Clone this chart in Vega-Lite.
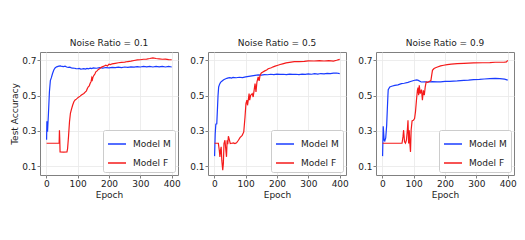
{
"$schema": "https://vega.github.io/schema/vega-lite/v6.json",
"padding": {"left": 10, "top": 38, "right": 5, "bottom": 5},
"spacing": 8,
"datasets": {"d": [
{"n":"0.1","m":"Model M","e":1,"a":0.25},{"n":"0.1","m":"Model M","e":2,"a":0.355},{"n":"0.1","m":"Model M","e":4,"a":0.295},{"n":"0.1","m":"Model M","e":7,"a":0.40},{"n":"0.1","m":"Model M","e":10,"a":0.52},{"n":"0.1","m":"Model M","e":13,"a":0.585},{"n":"0.1","m":"Model M","e":16,"a":0.60},{"n":"0.1","m":"Model M","e":20,"a":0.625},{"n":"0.1","m":"Model M","e":24,"a":0.645},{"n":"0.1","m":"Model M","e":28,"a":0.657},{"n":"0.1","m":"Model M","e":33,"a":0.663},{"n":"0.1","m":"Model M","e":40,"a":0.667},{"n":"0.1","m":"Model M","e":45,"a":0.668},{"n":"0.1","m":"Model M","e":50,"a":0.665},{"n":"0.1","m":"Model M","e":55,"a":0.664},{"n":"0.1","m":"Model M","e":60,"a":0.667},{"n":"0.1","m":"Model M","e":65,"a":0.662},{"n":"0.1","m":"Model M","e":70,"a":0.660},{"n":"0.1","m":"Model M","e":75,"a":0.661},{"n":"0.1","m":"Model M","e":80,"a":0.657},{"n":"0.1","m":"Model M","e":85,"a":0.656},{"n":"0.1","m":"Model M","e":90,"a":0.655},{"n":"0.1","m":"Model M","e":95,"a":0.653},{"n":"0.1","m":"Model M","e":100,"a":0.652},{"n":"0.1","m":"Model M","e":105,"a":0.654},{"n":"0.1","m":"Model M","e":110,"a":0.650},{"n":"0.1","m":"Model M","e":115,"a":0.651},{"n":"0.1","m":"Model M","e":120,"a":0.653},{"n":"0.1","m":"Model M","e":125,"a":0.650},{"n":"0.1","m":"Model M","e":130,"a":0.654},{"n":"0.1","m":"Model M","e":135,"a":0.652},{"n":"0.1","m":"Model M","e":140,"a":0.656},{"n":"0.1","m":"Model M","e":145,"a":0.653},{"n":"0.1","m":"Model M","e":150,"a":0.657},{"n":"0.1","m":"Model M","e":160,"a":0.655},{"n":"0.1","m":"Model M","e":170,"a":0.658},{"n":"0.1","m":"Model M","e":180,"a":0.656},{"n":"0.1","m":"Model M","e":190,"a":0.659},{"n":"0.1","m":"Model M","e":200,"a":0.657},{"n":"0.1","m":"Model M","e":210,"a":0.660},{"n":"0.1","m":"Model M","e":220,"a":0.658},{"n":"0.1","m":"Model M","e":230,"a":0.661},{"n":"0.1","m":"Model M","e":240,"a":0.659},{"n":"0.1","m":"Model M","e":250,"a":0.662},{"n":"0.1","m":"Model M","e":260,"a":0.660},{"n":"0.1","m":"Model M","e":270,"a":0.663},{"n":"0.1","m":"Model M","e":280,"a":0.661},{"n":"0.1","m":"Model M","e":290,"a":0.664},{"n":"0.1","m":"Model M","e":300,"a":0.662},{"n":"0.1","m":"Model M","e":310,"a":0.665},{"n":"0.1","m":"Model M","e":320,"a":0.663},{"n":"0.1","m":"Model M","e":330,"a":0.666},{"n":"0.1","m":"Model M","e":340,"a":0.662},{"n":"0.1","m":"Model M","e":350,"a":0.665},{"n":"0.1","m":"Model M","e":360,"a":0.663},{"n":"0.1","m":"Model M","e":370,"a":0.666},{"n":"0.1","m":"Model M","e":380,"a":0.662},{"n":"0.1","m":"Model M","e":390,"a":0.665},{"n":"0.1","m":"Model M","e":400,"a":0.662},
{"n":"0.1","m":"Model F","e":1,"a":0.23},{"n":"0.1","m":"Model F","e":41,"a":0.23},{"n":"0.1","m":"Model F","e":42,"a":0.304},{"n":"0.1","m":"Model F","e":43,"a":0.25},{"n":"0.1","m":"Model F","e":44,"a":0.181},{"n":"0.1","m":"Model F","e":55,"a":0.18},{"n":"0.1","m":"Model F","e":66,"a":0.181},{"n":"0.1","m":"Model F","e":68,"a":0.20},{"n":"0.1","m":"Model F","e":71,"a":0.27},{"n":"0.1","m":"Model F","e":74,"a":0.35},{"n":"0.1","m":"Model F","e":77,"a":0.40},{"n":"0.1","m":"Model F","e":80,"a":0.42},{"n":"0.1","m":"Model F","e":84,"a":0.445},{"n":"0.1","m":"Model F","e":88,"a":0.465},{"n":"0.1","m":"Model F","e":92,"a":0.475},{"n":"0.1","m":"Model F","e":96,"a":0.48},{"n":"0.1","m":"Model F","e":100,"a":0.487},{"n":"0.1","m":"Model F","e":104,"a":0.492},{"n":"0.1","m":"Model F","e":108,"a":0.497},{"n":"0.1","m":"Model F","e":112,"a":0.503},{"n":"0.1","m":"Model F","e":116,"a":0.508},{"n":"0.1","m":"Model F","e":120,"a":0.512},{"n":"0.1","m":"Model F","e":124,"a":0.52},{"n":"0.1","m":"Model F","e":128,"a":0.527},{"n":"0.1","m":"Model F","e":131,"a":0.54},{"n":"0.1","m":"Model F","e":134,"a":0.55},{"n":"0.1","m":"Model F","e":137,"a":0.555},{"n":"0.1","m":"Model F","e":140,"a":0.57},{"n":"0.1","m":"Model F","e":143,"a":0.58},{"n":"0.1","m":"Model F","e":145,"a":0.60},{"n":"0.1","m":"Model F","e":147,"a":0.59},{"n":"0.1","m":"Model F","e":149,"a":0.605},{"n":"0.1","m":"Model F","e":152,"a":0.615},{"n":"0.1","m":"Model F","e":155,"a":0.622},{"n":"0.1","m":"Model F","e":158,"a":0.635},{"n":"0.1","m":"Model F","e":162,"a":0.64},{"n":"0.1","m":"Model F","e":166,"a":0.648},{"n":"0.1","m":"Model F","e":170,"a":0.652},{"n":"0.1","m":"Model F","e":175,"a":0.66},{"n":"0.1","m":"Model F","e":180,"a":0.664},{"n":"0.1","m":"Model F","e":185,"a":0.668},{"n":"0.1","m":"Model F","e":190,"a":0.672},{"n":"0.1","m":"Model F","e":195,"a":0.668},{"n":"0.1","m":"Model F","e":200,"a":0.678},{"n":"0.1","m":"Model F","e":205,"a":0.676},{"n":"0.1","m":"Model F","e":210,"a":0.68},{"n":"0.1","m":"Model F","e":220,"a":0.683},{"n":"0.1","m":"Model F","e":230,"a":0.686},{"n":"0.1","m":"Model F","e":240,"a":0.688},{"n":"0.1","m":"Model F","e":250,"a":0.69},{"n":"0.1","m":"Model F","e":260,"a":0.693},{"n":"0.1","m":"Model F","e":270,"a":0.695},{"n":"0.1","m":"Model F","e":280,"a":0.699},{"n":"0.1","m":"Model F","e":290,"a":0.702},{"n":"0.1","m":"Model F","e":300,"a":0.703},{"n":"0.1","m":"Model F","e":310,"a":0.706},{"n":"0.1","m":"Model F","e":320,"a":0.707},{"n":"0.1","m":"Model F","e":330,"a":0.71},{"n":"0.1","m":"Model F","e":340,"a":0.714},{"n":"0.1","m":"Model F","e":350,"a":0.71},{"n":"0.1","m":"Model F","e":360,"a":0.708},{"n":"0.1","m":"Model F","e":370,"a":0.706},{"n":"0.1","m":"Model F","e":380,"a":0.707},{"n":"0.1","m":"Model F","e":390,"a":0.704},{"n":"0.1","m":"Model F","e":400,"a":0.703},
{"n":"0.5","m":"Model M","e":1,"a":0.157},{"n":"0.5","m":"Model M","e":3,"a":0.285},{"n":"0.5","m":"Model M","e":5,"a":0.338},{"n":"0.5","m":"Model M","e":8,"a":0.34},{"n":"0.5","m":"Model M","e":10,"a":0.42},{"n":"0.5","m":"Model M","e":12,"a":0.50},{"n":"0.5","m":"Model M","e":14,"a":0.549},{"n":"0.5","m":"Model M","e":17,"a":0.565},{"n":"0.5","m":"Model M","e":20,"a":0.575},{"n":"0.5","m":"Model M","e":25,"a":0.583},{"n":"0.5","m":"Model M","e":30,"a":0.59},{"n":"0.5","m":"Model M","e":35,"a":0.594},{"n":"0.5","m":"Model M","e":40,"a":0.598},{"n":"0.5","m":"Model M","e":45,"a":0.60},{"n":"0.5","m":"Model M","e":50,"a":0.602},{"n":"0.5","m":"Model M","e":55,"a":0.599},{"n":"0.5","m":"Model M","e":60,"a":0.603},{"n":"0.5","m":"Model M","e":70,"a":0.601},{"n":"0.5","m":"Model M","e":80,"a":0.604},{"n":"0.5","m":"Model M","e":90,"a":0.602},{"n":"0.5","m":"Model M","e":100,"a":0.606},{"n":"0.5","m":"Model M","e":110,"a":0.609},{"n":"0.5","m":"Model M","e":120,"a":0.612},{"n":"0.5","m":"Model M","e":130,"a":0.615},{"n":"0.5","m":"Model M","e":140,"a":0.617},{"n":"0.5","m":"Model M","e":150,"a":0.616},{"n":"0.5","m":"Model M","e":160,"a":0.619},{"n":"0.5","m":"Model M","e":170,"a":0.618},{"n":"0.5","m":"Model M","e":180,"a":0.621},{"n":"0.5","m":"Model M","e":190,"a":0.619},{"n":"0.5","m":"Model M","e":200,"a":0.622},{"n":"0.5","m":"Model M","e":210,"a":0.62},{"n":"0.5","m":"Model M","e":220,"a":0.621},{"n":"0.5","m":"Model M","e":230,"a":0.619},{"n":"0.5","m":"Model M","e":240,"a":0.622},{"n":"0.5","m":"Model M","e":250,"a":0.62},{"n":"0.5","m":"Model M","e":260,"a":0.621},{"n":"0.5","m":"Model M","e":270,"a":0.619},{"n":"0.5","m":"Model M","e":280,"a":0.622},{"n":"0.5","m":"Model M","e":290,"a":0.62},{"n":"0.5","m":"Model M","e":300,"a":0.623},{"n":"0.5","m":"Model M","e":310,"a":0.621},{"n":"0.5","m":"Model M","e":320,"a":0.624},{"n":"0.5","m":"Model M","e":330,"a":0.622},{"n":"0.5","m":"Model M","e":340,"a":0.625},{"n":"0.5","m":"Model M","e":350,"a":0.623},{"n":"0.5","m":"Model M","e":360,"a":0.626},{"n":"0.5","m":"Model M","e":370,"a":0.624},{"n":"0.5","m":"Model M","e":380,"a":0.627},{"n":"0.5","m":"Model M","e":390,"a":0.628},{"n":"0.5","m":"Model M","e":400,"a":0.624},
{"n":"0.5","m":"Model F","e":1,"a":0.23},{"n":"0.5","m":"Model F","e":13,"a":0.23},{"n":"0.5","m":"Model F","e":16,"a":0.19},{"n":"0.5","m":"Model F","e":18,"a":0.153},{"n":"0.5","m":"Model F","e":20,"a":0.19},{"n":"0.5","m":"Model F","e":22,"a":0.21},{"n":"0.5","m":"Model F","e":24,"a":0.134},{"n":"0.5","m":"Model F","e":27,"a":0.077},{"n":"0.5","m":"Model F","e":29,"a":0.115},{"n":"0.5","m":"Model F","e":31,"a":0.228},{"n":"0.5","m":"Model F","e":34,"a":0.247},{"n":"0.5","m":"Model F","e":37,"a":0.19},{"n":"0.5","m":"Model F","e":39,"a":0.153},{"n":"0.5","m":"Model F","e":41,"a":0.247},{"n":"0.5","m":"Model F","e":43,"a":0.225},{"n":"0.5","m":"Model F","e":45,"a":0.27},{"n":"0.5","m":"Model F","e":48,"a":0.25},{"n":"0.5","m":"Model F","e":51,"a":0.228},{"n":"0.5","m":"Model F","e":56,"a":0.23},{"n":"0.5","m":"Model F","e":61,"a":0.232},{"n":"0.5","m":"Model F","e":66,"a":0.228},{"n":"0.5","m":"Model F","e":71,"a":0.232},{"n":"0.5","m":"Model F","e":77,"a":0.247},{"n":"0.5","m":"Model F","e":82,"a":0.262},{"n":"0.5","m":"Model F","e":89,"a":0.275},{"n":"0.5","m":"Model F","e":94,"a":0.294},{"n":"0.5","m":"Model F","e":98,"a":0.379},{"n":"0.5","m":"Model F","e":101,"a":0.455},{"n":"0.5","m":"Model F","e":104,"a":0.474},{"n":"0.5","m":"Model F","e":106,"a":0.445},{"n":"0.5","m":"Model F","e":109,"a":0.483},{"n":"0.5","m":"Model F","e":111,"a":0.511},{"n":"0.5","m":"Model F","e":113,"a":0.474},{"n":"0.5","m":"Model F","e":116,"a":0.502},{"n":"0.5","m":"Model F","e":121,"a":0.511},{"n":"0.5","m":"Model F","e":124,"a":0.492},{"n":"0.5","m":"Model F","e":127,"a":0.53},{"n":"0.5","m":"Model F","e":130,"a":0.568},{"n":"0.5","m":"Model F","e":133,"a":0.521},{"n":"0.5","m":"Model F","e":136,"a":0.577},{"n":"0.5","m":"Model F","e":140,"a":0.606},{"n":"0.5","m":"Model F","e":143,"a":0.583},{"n":"0.5","m":"Model F","e":146,"a":0.615},{"n":"0.5","m":"Model F","e":150,"a":0.628},{"n":"0.5","m":"Model F","e":155,"a":0.634},{"n":"0.5","m":"Model F","e":161,"a":0.64},{"n":"0.5","m":"Model F","e":167,"a":0.645},{"n":"0.5","m":"Model F","e":172,"a":0.652},{"n":"0.5","m":"Model F","e":177,"a":0.655},{"n":"0.5","m":"Model F","e":182,"a":0.658},{"n":"0.5","m":"Model F","e":188,"a":0.663},{"n":"0.5","m":"Model F","e":194,"a":0.667},{"n":"0.5","m":"Model F","e":203,"a":0.672},{"n":"0.5","m":"Model F","e":210,"a":0.676},{"n":"0.5","m":"Model F","e":218,"a":0.68},{"n":"0.5","m":"Model F","e":229,"a":0.685},{"n":"0.5","m":"Model F","e":240,"a":0.688},{"n":"0.5","m":"Model F","e":255,"a":0.692},{"n":"0.5","m":"Model F","e":270,"a":0.693},{"n":"0.5","m":"Model F","e":287,"a":0.694},{"n":"0.5","m":"Model F","e":300,"a":0.697},{"n":"0.5","m":"Model F","e":318,"a":0.696},{"n":"0.5","m":"Model F","e":335,"a":0.698},{"n":"0.5","m":"Model F","e":350,"a":0.696},{"n":"0.5","m":"Model F","e":365,"a":0.698},{"n":"0.5","m":"Model F","e":380,"a":0.695},{"n":"0.5","m":"Model F","e":390,"a":0.70},{"n":"0.5","m":"Model F","e":397,"a":0.704},{"n":"0.5","m":"Model F","e":400,"a":0.705},
{"n":"0.9","m":"Model M","e":1,"a":0.157},{"n":"0.9","m":"Model M","e":3,"a":0.326},{"n":"0.9","m":"Model M","e":6,"a":0.247},{"n":"0.9","m":"Model M","e":8,"a":0.243},{"n":"0.9","m":"Model M","e":11,"a":0.26},{"n":"0.9","m":"Model M","e":14,"a":0.33},{"n":"0.9","m":"Model M","e":16,"a":0.417},{"n":"0.9","m":"Model M","e":18,"a":0.50},{"n":"0.9","m":"Model M","e":19,"a":0.534},{"n":"0.9","m":"Model M","e":24,"a":0.549},{"n":"0.9","m":"Model M","e":30,"a":0.553},{"n":"0.9","m":"Model M","e":40,"a":0.558},{"n":"0.9","m":"Model M","e":50,"a":0.561},{"n":"0.9","m":"Model M","e":61,"a":0.568},{"n":"0.9","m":"Model M","e":70,"a":0.57},{"n":"0.9","m":"Model M","e":82,"a":0.575},{"n":"0.9","m":"Model M","e":90,"a":0.58},{"n":"0.9","m":"Model M","e":103,"a":0.587},{"n":"0.9","m":"Model M","e":110,"a":0.589},{"n":"0.9","m":"Model M","e":115,"a":0.586},{"n":"0.9","m":"Model M","e":124,"a":0.577},{"n":"0.9","m":"Model M","e":135,"a":0.578},{"n":"0.9","m":"Model M","e":145,"a":0.577},{"n":"0.9","m":"Model M","e":160,"a":0.579},{"n":"0.9","m":"Model M","e":175,"a":0.578},{"n":"0.9","m":"Model M","e":186,"a":0.578},{"n":"0.9","m":"Model M","e":200,"a":0.58},{"n":"0.9","m":"Model M","e":215,"a":0.581},{"n":"0.9","m":"Model M","e":239,"a":0.583},{"n":"0.9","m":"Model M","e":260,"a":0.586},{"n":"0.9","m":"Model M","e":275,"a":0.588},{"n":"0.9","m":"Model M","e":291,"a":0.591},{"n":"0.9","m":"Model M","e":310,"a":0.592},{"n":"0.9","m":"Model M","e":325,"a":0.594},{"n":"0.9","m":"Model M","e":343,"a":0.596},{"n":"0.9","m":"Model M","e":360,"a":0.597},{"n":"0.9","m":"Model M","e":375,"a":0.596},{"n":"0.9","m":"Model M","e":390,"a":0.593},{"n":"0.9","m":"Model M","e":400,"a":0.588},
{"n":"0.9","m":"Model F","e":1,"a":0.23},{"n":"0.9","m":"Model F","e":63,"a":0.23},{"n":"0.9","m":"Model F","e":66,"a":0.266},{"n":"0.9","m":"Model F","e":68,"a":0.304},{"n":"0.9","m":"Model F","e":71,"a":0.238},{"n":"0.9","m":"Model F","e":74,"a":0.23},{"n":"0.9","m":"Model F","e":77,"a":0.247},{"n":"0.9","m":"Model F","e":80,"a":0.304},{"n":"0.9","m":"Model F","e":82,"a":0.36},{"n":"0.9","m":"Model F","e":84,"a":0.228},{"n":"0.9","m":"Model F","e":86,"a":0.304},{"n":"0.9","m":"Model F","e":88,"a":0.228},{"n":"0.9","m":"Model F","e":90,"a":0.181},{"n":"0.9","m":"Model F","e":92,"a":0.304},{"n":"0.9","m":"Model F","e":95,"a":0.357},{"n":"0.9","m":"Model F","e":99,"a":0.36},{"n":"0.9","m":"Model F","e":103,"a":0.37},{"n":"0.9","m":"Model F","e":106,"a":0.41},{"n":"0.9","m":"Model F","e":109,"a":0.474},{"n":"0.9","m":"Model F","e":112,"a":0.53},{"n":"0.9","m":"Model F","e":114,"a":0.545},{"n":"0.9","m":"Model F","e":116,"a":0.502},{"n":"0.9","m":"Model F","e":118,"a":0.558},{"n":"0.9","m":"Model F","e":121,"a":0.511},{"n":"0.9","m":"Model F","e":125,"a":0.534},{"n":"0.9","m":"Model F","e":128,"a":0.474},{"n":"0.9","m":"Model F","e":131,"a":0.53},{"n":"0.9","m":"Model F","e":134,"a":0.502},{"n":"0.9","m":"Model F","e":137,"a":0.55},{"n":"0.9","m":"Model F","e":140,"a":0.577},{"n":"0.9","m":"Model F","e":145,"a":0.575},{"n":"0.9","m":"Model F","e":150,"a":0.58},{"n":"0.9","m":"Model F","e":155,"a":0.585},{"n":"0.9","m":"Model F","e":158,"a":0.62},{"n":"0.9","m":"Model F","e":160,"a":0.643},{"n":"0.9","m":"Model F","e":165,"a":0.653},{"n":"0.9","m":"Model F","e":170,"a":0.658},{"n":"0.9","m":"Model F","e":176,"a":0.662},{"n":"0.9","m":"Model F","e":186,"a":0.668},{"n":"0.9","m":"Model F","e":196,"a":0.672},{"n":"0.9","m":"Model F","e":207,"a":0.675},{"n":"0.9","m":"Model F","e":220,"a":0.678},{"n":"0.9","m":"Model F","e":239,"a":0.681},{"n":"0.9","m":"Model F","e":260,"a":0.683},{"n":"0.9","m":"Model F","e":291,"a":0.685},{"n":"0.9","m":"Model F","e":320,"a":0.686},{"n":"0.9","m":"Model F","e":343,"a":0.687},{"n":"0.9","m":"Model F","e":360,"a":0.689},{"n":"0.9","m":"Model F","e":375,"a":0.689},{"n":"0.9","m":"Model F","e":390,"a":0.69},{"n":"0.9","m":"Model F","e":396,"a":0.691},{"n":"0.9","m":"Model F","e":400,"a":0.70}
]},
"data": {"name": "d"},
"config": {
  "font": "DejaVu Sans",
  "view": {"stroke": "#808080", "strokeWidth": 1},
  "axis": {"labelFontSize": 9, "titleFontSize": 9, "titleFontWeight": "normal", "labelColor": "#222222", "titleColor": "#222222", "grid": true, "gridColor": "#e8e8e8", "gridWidth": 0.8, "domain": false, "tickColor": "#808080", "tickSize": 3, "labelPadding": 1, "titlePadding": 2},
  "title": {"fontSize": 9, "fontWeight": "normal", "offset": 4, "color": "#222222"},
  "legend": {"labelFontSize": 9, "labelColor": "#222222", "symbolType": "stroke", "symbolSize": 324, "symbolStrokeWidth": 1.5, "strokeColor": "#cccccc", "fillColor": "white", "padding": 4, "cornerRadius": 2, "offset": 3, "rowPadding": 4, "labelOffset": 6}
},
"resolve": {"legend": {"color": "independent"}},
"hconcat": [
 {"title": "Noise Ratio = 0.1", "width": 138, "height": 123,
  "transform": [{"filter": "datum.n == '0.1'"}],
  "mark": {"type": "line", "strokeWidth": 1.2, "clip": true},
  "encoding": {
   "x": {"field": "e", "type": "quantitative", "scale": {"domain": [-20, 420], "nice": false}, "axis": {"values": [0, 100, 200, 300, 400], "title": "Epoch"}},
   "y": {"field": "a", "type": "quantitative", "scale": {"domain": [0.05, 0.747], "nice": false, "zero": false}, "axis": {"values": [0.1, 0.3, 0.5, 0.7], "format": ".1f", "title": "Test Accuracy"}},
   "color": {"field": "m", "type": "nominal", "scale": {"domain": ["Model M", "Model F"], "range": ["#1a3cff", "#f51a1a"]}, "legend": {"orient": "bottom-right", "title": null}}
  }},
 {"title": "Noise Ratio = 0.5", "width": 138, "height": 123,
  "transform": [{"filter": "datum.n == '0.5'"}],
  "mark": {"type": "line", "strokeWidth": 1.2, "clip": true},
  "encoding": {
   "x": {"field": "e", "type": "quantitative", "scale": {"domain": [-20, 420], "nice": false}, "axis": {"values": [0, 100, 200, 300, 400], "title": "Epoch"}},
   "y": {"field": "a", "type": "quantitative", "scale": {"domain": [0.05, 0.747], "nice": false, "zero": false}, "axis": {"values": [0.1, 0.3, 0.5, 0.7], "format": ".1f", "title": null}},
   "color": {"field": "m", "type": "nominal", "scale": {"domain": ["Model M", "Model F"], "range": ["#1a3cff", "#f51a1a"]}, "legend": {"orient": "bottom-right", "title": null}}
  }},
 {"title": "Noise Ratio = 0.9", "width": 138, "height": 123,
  "transform": [{"filter": "datum.n == '0.9'"}],
  "mark": {"type": "line", "strokeWidth": 1.2, "clip": true},
  "encoding": {
   "x": {"field": "e", "type": "quantitative", "scale": {"domain": [-20, 420], "nice": false}, "axis": {"values": [0, 100, 200, 300, 400], "title": "Epoch"}},
   "y": {"field": "a", "type": "quantitative", "scale": {"domain": [0.05, 0.747], "nice": false, "zero": false}, "axis": {"values": [0.1, 0.3, 0.5, 0.7], "format": ".1f", "title": null}},
   "color": {"field": "m", "type": "nominal", "scale": {"domain": ["Model M", "Model F"], "range": ["#1a3cff", "#f51a1a"]}, "legend": {"orient": "bottom-right", "title": null}}
  }}
]
}
